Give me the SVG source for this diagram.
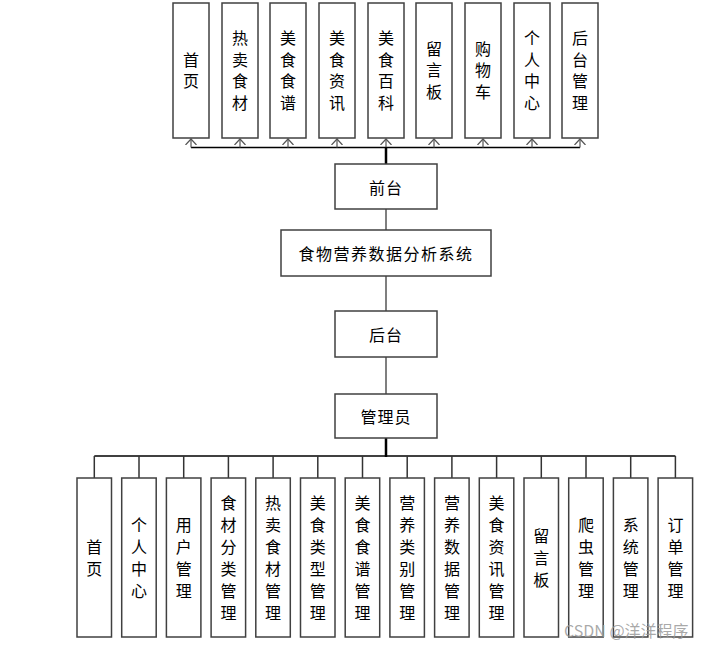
<svg xmlns="http://www.w3.org/2000/svg" width="718" height="648" viewBox="0 0 718 648">
<style>
  .box{fill:#fff;stroke:#404040;stroke-width:1.5}
  .t{font-family:"Noto Sans CJK SC","Liberation Sans",sans-serif;font-size:16px;fill:#000;text-anchor:middle;dominant-baseline:central}
  .v{font-family:"Noto Sans CJK SC","Liberation Sans",sans-serif;font-size:16px;fill:#000;text-anchor:middle;writing-mode:vertical-rl;text-orientation:upright;glyph-orientation-vertical:0}
  .vt{letter-spacing:5.5px}
  .vb{letter-spacing:6px}
  .g{stroke:#7f7f7f;stroke-width:2;fill:none}
  .k{stroke:#000;stroke-width:1.5;fill:none}
  .kk{stroke:#000;stroke-width:2.5;fill:none}
  .ar{stroke:#555;stroke-width:1.2;fill:none;marker-end:url(#chev)}
  .d{stroke:#333;stroke-width:1.5;fill:none}
</style>
<defs>
  <marker id="chev" viewBox="0 0 7 12" refX="6" refY="6" markerWidth="7" markerHeight="12" markerUnits="userSpaceOnUse" orient="auto">
    <path d="M0,0.5 L6,6 L0,11.5" fill="none" stroke="#555" stroke-width="1.2"/>
  </marker>
</defs>
<rect width="718" height="648" fill="#fff"/>

<g id="connectors">
  <line class="k" x1="191" y1="147.5" x2="580" y2="147.5"/>
  <line class="ar" x1="191" y1="147.5" x2="191" y2="139"/>
  <line class="ar" x1="240" y1="147.5" x2="240" y2="139"/>
  <line class="ar" x1="288" y1="147.5" x2="288" y2="139"/>
  <line class="ar" x1="337" y1="147.5" x2="337" y2="139"/>
  <line class="ar" x1="386" y1="147.5" x2="386" y2="139"/>
  <line class="ar" x1="434" y1="147.5" x2="434" y2="139"/>
  <line class="ar" x1="483" y1="147.5" x2="483" y2="139"/>
  <line class="ar" x1="532" y1="147.5" x2="532" y2="139"/>
  <line class="ar" x1="580" y1="147.5" x2="580" y2="139"/>
  <line class="kk" x1="386" y1="147" x2="386" y2="164"/>
  <line class="g" x1="386" y1="209" x2="386" y2="230"/>
  <line class="g" x1="386" y1="276" x2="386" y2="311"/>
  <line class="g" x1="386" y1="357" x2="386" y2="394"/>
  <line class="kk" x1="386" y1="438" x2="386" y2="457"/>
  <line class="k" x1="94.3" y1="456" x2="675.4" y2="456"/>
  <line class="d" x1="94.3" y1="456" x2="94.3" y2="478"/>
  <line class="d" x1="139" y1="456" x2="139" y2="478"/>
  <line class="d" x1="183.7" y1="456" x2="183.7" y2="478"/>
  <line class="d" x1="228.4" y1="456" x2="228.4" y2="478"/>
  <line class="d" x1="273.1" y1="456" x2="273.1" y2="478"/>
  <line class="d" x1="317.8" y1="456" x2="317.8" y2="478"/>
  <line class="d" x1="362.5" y1="456" x2="362.5" y2="478"/>
  <line class="d" x1="407.2" y1="456" x2="407.2" y2="478"/>
  <line class="d" x1="451.9" y1="456" x2="451.9" y2="478"/>
  <line class="d" x1="496.6" y1="456" x2="496.6" y2="478"/>
  <line class="d" x1="541.3" y1="456" x2="541.3" y2="478"/>
  <line class="d" x1="586" y1="456" x2="586" y2="478"/>
  <line class="d" x1="630.7" y1="456" x2="630.7" y2="478"/>
  <line class="d" x1="675.4" y1="456" x2="675.4" y2="478"/>
</g>

<g id="top-home"><rect class="box" x="173" y="3" width="36" height="135"/><text class="v vt" x="191" y="73">首页</text></g>
<g id="top-hot"><rect class="box" x="222" y="3" width="36" height="135"/><text class="v vt" x="240" y="73">热卖食材</text></g>
<g id="top-recipe"><rect class="box" x="270" y="3" width="36" height="135"/><text class="v vt" x="288" y="73">美食食谱</text></g>
<g id="top-news"><rect class="box" x="319" y="3" width="36" height="135"/><text class="v vt" x="337" y="73">美食资讯</text></g>
<g id="top-wiki"><rect class="box" x="368" y="3" width="36" height="135"/><text class="v vt" x="386" y="73">美食百科</text></g>
<g id="top-msg"><rect class="box" x="416" y="3" width="36" height="135"/><text class="v vt" x="434" y="73">留言板</text></g>
<g id="top-cart"><rect class="box" x="465" y="3" width="36" height="135"/><text class="v vt" x="483" y="73">购物车</text></g>
<g id="top-user"><rect class="box" x="514" y="3" width="36" height="135"/><text class="v vt" x="532" y="73">个人中心</text></g>
<g id="top-admin"><rect class="box" x="562" y="3" width="36" height="135"/><text class="v vt" x="580" y="73">后台管理</text></g>

<g id="front"><rect class="box" x="335" y="164" width="102" height="45"/><text class="t" x="386" y="186.5" letter-spacing="1">前台</text></g>
<g id="system"><rect class="box" x="281" y="230" width="210" height="46"/><text class="t" x="386" y="253" letter-spacing="1.5">食物营养数据分析系统</text></g>
<g id="back"><rect class="box" x="335" y="311" width="102" height="46"/><text class="t" x="386" y="334" letter-spacing="1">后台</text></g>
<g id="adminuser"><rect class="box" x="335" y="394" width="102" height="44"/><text class="t" x="386" y="416" letter-spacing="1">管理员</text></g>

<g id="b-home"><rect class="box" x="77" y="478" width="34.5" height="159"/><text class="v vb" x="94.3" y="560.5">首页</text></g>
<g id="b-center"><rect class="box" x="121.7" y="478" width="34.5" height="159"/><text class="v vb" x="139" y="560.5">个人中心</text></g>
<g id="b-usermgr"><rect class="box" x="166.4" y="478" width="34.5" height="159"/><text class="v vb" x="183.7" y="560.5">用户管理</text></g>
<g id="b-cat"><rect class="box" x="211.1" y="478" width="34.5" height="159"/><text class="v vb" x="228.4" y="560.5">食材分类管理</text></g>
<g id="b-hot"><rect class="box" x="255.8" y="478" width="34.5" height="159"/><text class="v vb" x="273.1" y="560.5">热卖食材管理</text></g>
<g id="b-type"><rect class="box" x="300.5" y="478" width="34.5" height="159"/><text class="v vb" x="317.8" y="560.5">美食类型管理</text></g>
<g id="b-recipe"><rect class="box" x="345.2" y="478" width="34.5" height="159"/><text class="v vb" x="362.5" y="560.5">美食食谱管理</text></g>
<g id="b-nutcat"><rect class="box" x="389.9" y="478" width="34.5" height="159"/><text class="v vb" x="407.2" y="560.5">营养类别管理</text></g>
<g id="b-nutdata"><rect class="box" x="434.6" y="478" width="34.5" height="159"/><text class="v vb" x="451.9" y="560.5">营养数据管理</text></g>
<g id="b-news"><rect class="box" x="479.3" y="478" width="34.5" height="159"/><text class="v vb" x="496.6" y="560.5">美食资讯管理</text></g>
<g id="b-msg"><rect class="box" x="524" y="478" width="34.5" height="159"/><text class="v vb" x="541.3" y="560.5">留言板</text></g>
<g id="b-crawler"><rect class="box" x="568.7" y="478" width="34.5" height="159"/><text class="v vb" x="586" y="560.5">爬虫管理</text></g>
<g id="b-sys"><rect class="box" x="613.4" y="478" width="34.5" height="159"/><text class="v vb" x="630.7" y="560.5">系统管理</text></g>
<g id="b-order"><rect class="box" x="658.1" y="478" width="34.5" height="159"/><text class="v vb" x="675.4" y="560.5">订单管理</text></g>

<text x="564" y="637" font-family="Noto Sans CJK SC,Liberation Sans,sans-serif" font-size="16" fill="#9a9a9a" fill-opacity="0.85">CSDN @洋洋程序</text>
</svg>
